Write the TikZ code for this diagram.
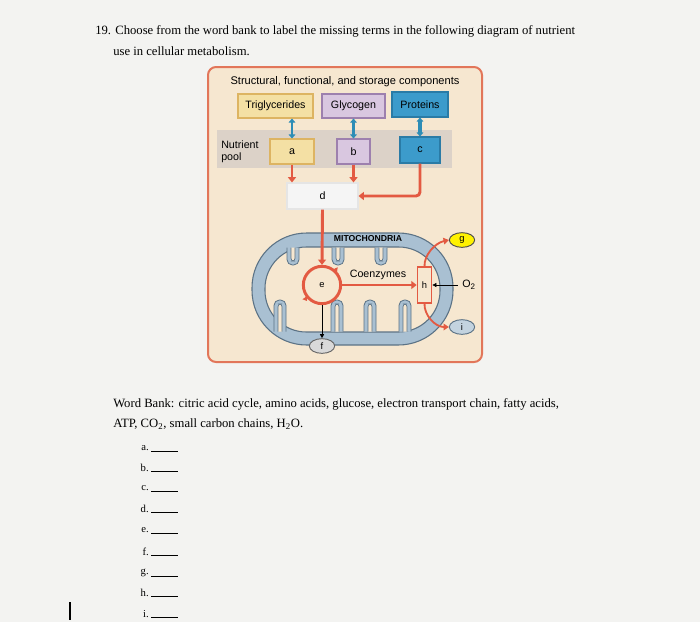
\documentclass[tikz,border=0pt]{standalone}
\usepackage{fontspec}
\setmainfont{Liberation Serif}
\newfontfamily\diag{Liberation Sans}
\usetikzlibrary{arrows.meta,shapes.geometric}
\definecolor{bgc}{HTML}{F3F3F1}
\definecolor{cream}{HTML}{F6E7D0}
\definecolor{frame}{HTML}{E2765A}
\definecolor{band}{HTML}{DCD2C8}
\definecolor{tri}{HTML}{F4E0A4}
\definecolor{trib}{HTML}{DDB462}
\definecolor{gly}{HTML}{D9C7E0}
\definecolor{glyb}{HTML}{9D80AE}
\definecolor{pro}{HTML}{3C9BCB}
\definecolor{prob}{HTML}{2A7BA6}
\definecolor{redarr}{HTML}{E35A42}
\definecolor{teal}{HTML}{2D8DB6}
\definecolor{mem}{HTML}{A9C0D2}
\definecolor{memd}{HTML}{5B7285}
\tikzset{
 bx/.style={draw,line width=0.8pt,font=\diag\fontsize{8}{9}\selectfont,inner sep=0pt},
 rarr/.style={draw=redarr,line width=2.2pt,-{Triangle[length=4pt,width=6pt]}},
 tarr/.style={draw=teal,line width=2pt,{Triangle[length=3pt,width=5pt]}-{Triangle[length=3pt,width=5pt]}},
 lbl/.style={font=\diag\fontsize{7}{8}\selectfont},
 txt/.style={font=\fontsize{9.5}{10}\selectfont,anchor=west,inner sep=0pt},
 ovl/.style={draw=memd,line width=0.7pt,ellipse,minimum width=19pt,minimum height=11pt,inner sep=0pt,font=\diag\fontsize{7}{8}\selectfont},
}
\begin{document}
\begin{tikzpicture}[x=0.75pt,y=-0.75pt]
\fill[bgc] (0,0) rectangle (700,622);
\useasboundingbox (0,0) rectangle (700,622);
% question
\node[txt] (q1) at (95,31) {19. Choose from the word bank to label the missing terms in the following diagram of nutrient};
\node[txt] (q2) at (113,51) {use in cellular metabolism.};
\node[txt] (w1) at (113,404) {Word Bank: citric acid cycle, amino acids, glucose, electron transport chain, fatty acids,};
\node[txt] (w2) at (113,424) {ATP, CO\textsubscript{2}, small carbon chains, H\textsubscript{2}O.};
\foreach \l/\y in {a/448,b/468,c/488,d/509,e/530,f/552,g/573,h/593,i/614}{
 \node[txt,anchor=east,font=\fontsize{8}{9}\selectfont] (l\l) at (149,\y) {\l.};
 \draw[line width=0.6pt] (151,\y+3) -- (178,\y+3);
}
\draw[line width=0.8pt] (70,602) -- (70,620);
% frame
\draw[frame,fill=cream,line width=1.5pt,rounded corners=6pt] (208,67) rectangle (482,362);
\node[font=\diag\fontsize{8.3}{9}\selectfont] (title) at (345,82) {Structural, functional, and storage components};
\fill[band] (217,130) rectangle (452,168);
\node[bx,fill=tri,draw=trib,minimum width=56.25pt,minimum height=18pt] (tg) at (275.5,106) {Triglycerides};
\node[bx,fill=gly,draw=glyb,minimum width=47.25pt,minimum height=18pt] (gl) at (353.5,106) {Glycogen};
\node[bx,fill=pro,draw=prob,minimum width=42pt,minimum height=18.75pt] (pr) at (420,104.5) {Proteins};
\node[lbl,align=left,anchor=west,inner sep=0pt,font=\diag\fontsize{8}{9}\selectfont] (np) at (221,152) {Nutrient\\pool};
\node[bx,fill=tri,draw=trib,minimum width=33pt,minimum height=18.75pt] (a) at (292,151.5) {a};
\node[bx,fill=gly,draw=glyb,minimum width=24.75pt,minimum height=18.75pt] (b) at (353.5,151.5) {b};
\node[bx,fill=pro,draw=prob,minimum width=30pt,minimum height=19.5pt] (c) at (420,150) {c};
\node[bx,fill=white!92!gray,draw=white!80!gray,minimum width=53.25pt,minimum height=19.5pt] (d) at (322.5,196) {d};
\draw[tarr] (tg.south -| a.north) -- (a.north);
\draw[tarr] (gl.south -| b.north) -- (b.north);
\draw[tarr,line width=3.5pt] (pr.south) -- (c.north);
% mitochondria
\draw[memd,fill=mem,line width=0.8pt,rounded corners=41pt] (252,233) rectangle (453,345);
\draw[memd,fill=cream,line width=0.8pt,rounded corners=31pt] (265,247) rectangle (440,332);
\foreach \x in {293,338,381}{
 \draw[memd,fill=mem,line width=0.6pt,rounded corners=4pt] (\x-6,247.5) -- (\x-6,265) -- (\x+6,265) -- (\x+6,247.5);
 \draw[memd,fill=cream,line width=0.5pt,rounded corners=2pt] (\x-2,247.5) -- (\x-2,261) -- (\x+2,261) -- (\x+2,247.5);
}
\foreach \x in {280,337,370,405}{
 \draw[memd,fill=mem,line width=0.6pt,rounded corners=4pt] (\x-6,331.5) -- (\x-6,300) -- (\x+6,300) -- (\x+6,331.5);
 \draw[memd,fill=cream,line width=0.5pt,rounded corners=2pt] (\x-2,331.5) -- (\x-2,304) -- (\x+2,304) -- (\x+2,331.5);
}
\node[font=\diag\bfseries\fontsize{6.5}{7}\selectfont] (mt) at (368,239) {MITOCHONDRIA};
\node[draw=redarr,circle,line width=2.2pt,minimum size=28pt,fill=cream,font=\diag\fontsize{7}{8}\selectfont] (e) at (322,285) {e};
\draw[redarr,line width=1.2pt,-{Triangle[length=3pt,width=4pt]}] (335.5,269) -- (337,272);
\draw[redarr,line width=1.2pt,-{Triangle[length=3pt,width=4pt]}] (305,298) -- (307,301);
\node[lbl,font=\diag\fontsize{8}{9}\selectfont] (co) at (378,275) {Coenzymes};
\node[draw=redarr,fill=cream,line width=0.8pt,minimum width=11pt,minimum height=27pt,inner sep=0pt,font=\diag\fontsize{7}{8}\selectfont] (h) at (424.5,285) {h};
\node[ovl,fill=yellow,draw=black!70] (g) at (462,240) {g};
\node[ovl,fill=mem!70] (i) at (462,327) {i};
\node[ovl,fill=black!15,draw=black!60] (f) at (322,346) {f};
\node[lbl,font=\diag\fontsize{8}{9}\selectfont] (o2) at (469,285) {O\textsubscript{2}};
% arrows
\draw[rarr] (a.south) -- (d.north -| a.south);
\draw[rarr] (b.south) -- (d.north -| b.south);
\draw[rarr,rounded corners=3pt] (c.south) -- (420,196) -- (d.east);
\draw[rarr] (d.south) -- (e.north);
\draw[rarr] (e.east) -- (h.west);
\draw[redarr,line width=1.4pt,-{Triangle[length=4pt,width=5pt]}] (h.north) .. controls (424,255) and (435,243) .. (g.west);
\draw[redarr,line width=1.4pt,-{Triangle[length=4pt,width=5pt]}] (h.south) .. controls (424,315) and (435,327) .. (i.west);
\draw[black,line width=0.5pt,-{Triangle[length=3pt,width=3pt]}] (o2.west) -- (h.east);
\draw[black,line width=0.5pt,-{Triangle[length=3pt,width=3pt]}] (e.south) -- (f.north);
\end{tikzpicture}
\end{document}
